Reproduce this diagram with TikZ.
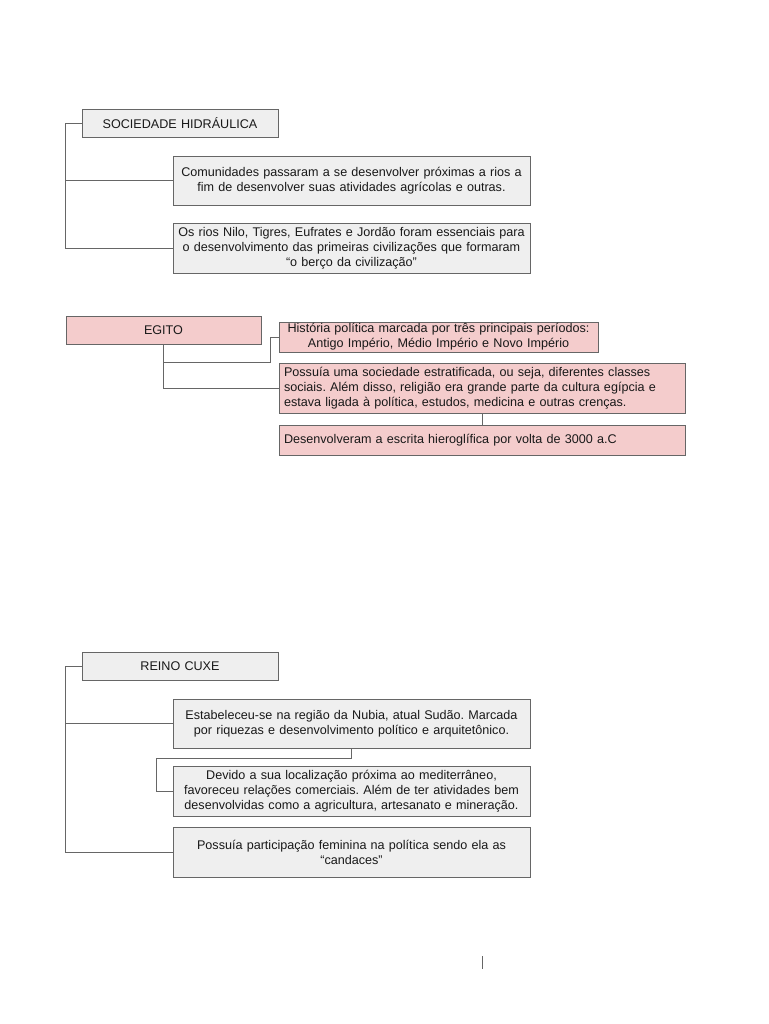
\documentclass[tikz,border=0pt]{standalone}
\usepackage{fontspec}
\setmainfont{Liberation Sans}
\usetikzlibrary{positioning}
\frenchspacing

\definecolor{boxgray}{HTML}{EFEFEF}
\definecolor{boxpink}{HTML}{F4CCCC}
\definecolor{linegray}{HTML}{666666}

\tikzset{
    base/.style={draw=linegray, line width=0.8pt, rectangle, inner xsep=5pt, inner ysep=0pt,
        font=\fontsize{12.6}{15}\selectfont, text=black!90},
    graybox/.style={base, fill=boxgray, align=center},
    pinkbox/.style={base, fill=boxpink, align=center},
    link/.style={draw=linegray, line width=0.8pt}
}

\begin{document}
\begin{tikzpicture}[x=1pt, y=-1pt]
    \fill[white] (0,0) rectangle (768,1024);
    \useasboundingbox (0,0) rectangle (768,1024);

    % sociedade hidraulica
    \node[graybox, minimum width=196, minimum height=28, text width=186] (soc) at (180,123) {SOCIEDADE HIDRÁULICA};
    \node[graybox, minimum width=357, minimum height=49, text width=347] (soc1) at (351.5,180.5)
        {Comunidades passaram a se desenvolver próximas a rios a\\fim de desenvolver suas atividades agrícolas e outras.};
    \node[graybox, minimum width=357, minimum height=50, text width=347] (soc2) at (351.5,248)
        {Os rios Nilo, Tigres, Eufrates e Jordão foram essenciais para\\o desenvolvimento das primeiras civilizações que formaram\\``o berço da civilização''};
    \draw[link] (soc.west) -- ++(-16,0) |- (soc1.west);
    \draw[link] (soc.west) -- ++(-16,0) |- (soc2.west);

    % egito
    \node[pinkbox, minimum width=195, minimum height=28, text width=185] (egi) at (163.5,330) {EGITO};
    \node[pinkbox, minimum width=319, minimum height=30, text width=309] (egi1) at (438.5,337)
        {História política marcada por três principais períodos:\\Antigo Império, Médio Império e Novo Império};
    \node[pinkbox, align=left, minimum width=406, minimum height=50, text width=396] (egi2) at (482,388)
        {Possuía uma sociedade estratificada, ou seja, diferentes classes\\sociais. Além disso, religião era grande parte da cultura egípcia e\\estava ligada à política, estudos, medicina e outras crenças.};
    \node[pinkbox, align=left, minimum width=406, minimum height=30, text width=396] (egi3) at (482,440)
        {Desenvolveram a escrita hieroglífica por volta de 3000 a.C};
    \coordinate (egiturn) at (270,362);
    \draw[link] (egi.south) |- (egi2.west);
    \draw[link] (egi.south |- egiturn) -- (egiturn) |- (egi1.west);
    \draw[link] (egi2.south) -- (egi3.north);

    % reino cuxe
    \node[graybox, minimum width=196, minimum height=28, text width=186] (cux) at (180,666) {REINO CUXE};
    \node[graybox, minimum width=357, minimum height=49, text width=347] (cux1) at (351.5,723.5)
        {Estabeleceu-se na região da Nubia, atual Sudão. Marcada\\por riquezas e desenvolvimento político e arquitetônico.};
    \node[graybox, minimum width=357, minimum height=50, text width=347] (cux2) at (351.5,791)
        {Devido a sua localização próxima ao mediterrâneo,\\favoreceu relações comerciais. Além de ter atividades bem\\desenvolvidas como a agricultura, artesanato e mineração.};
    \node[graybox, minimum width=357, minimum height=50, text width=347] (cux3) at (351.5,852)
        {Possuía participação feminina na política sendo ela as\\``candaces''};
    \draw[link] (cux.west) -- ++(-16,0) |- (cux1.west);
    \draw[link] (cux.west) -- ++(-16,0) |- (cux3.west);
    \draw[link] (cux1.south) -- ++(0,10) -| ++(-195,0) |- (cux2.west);

    % cursor mark
    \draw[linegray, line width=1pt] (482,956) -- (482,969);
\end{tikzpicture}
\end{document}
